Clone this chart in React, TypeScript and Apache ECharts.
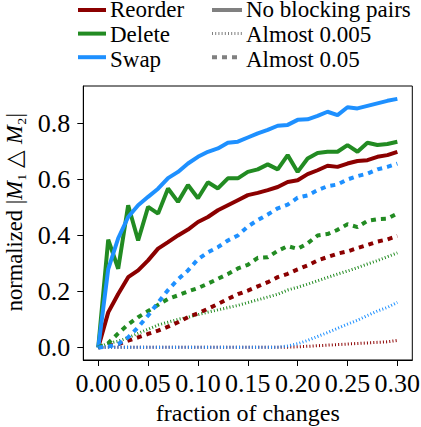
import React, { useEffect, useRef } from 'react';
import * as echarts from 'echarts';

// fraction of changes (x positions of the samples)
const fractions = [
  0.0, 0.01, 0.02, 0.03, 0.04, 0.05, 0.06, 0.07, 0.08, 0.09, 0.1,
  0.11, 0.12, 0.13, 0.14, 0.15, 0.16, 0.17, 0.18, 0.19, 0.2,
  0.21, 0.22, 0.23, 0.24, 0.25, 0.26, 0.27, 0.28, 0.29, 0.3,
];

const xTicks = [0, 0.05, 0.1, 0.15, 0.2, 0.25, 0.3];
const yTicks = [0, 0.2, 0.4, 0.6, 0.8];

const methodNames = ['Reorder', 'Delete', 'Swap'];
const styleNames = ['No blocking pairs', 'Almost 0.005', 'Almost 0.05'];

// No blocking pairs (solid)
const reorderSolid = [0, 0.125, 0.191, 0.251, 0.275, 0.311, 0.353, 0.376, 0.4, 0.421, 0.448, 0.466, 0.49, 0.508, 0.526, 0.544, 0.552, 0.562, 0.573, 0.591, 0.597, 0.619, 0.633, 0.649, 0.645, 0.657, 0.666, 0.669, 0.681, 0.687, 0.699];
const deleteSolid = [0, 0.385, 0.281, 0.508, 0.382, 0.502, 0.478, 0.568, 0.52, 0.58, 0.533, 0.59, 0.568, 0.604, 0.604, 0.627, 0.636, 0.654, 0.636, 0.687, 0.627, 0.675, 0.695, 0.699, 0.699, 0.723, 0.699, 0.731, 0.723, 0.727, 0.735];
const swapSolid = [0, 0.28, 0.39, 0.466, 0.508, 0.538, 0.567, 0.605, 0.627, 0.657, 0.681, 0.699, 0.711, 0.731, 0.735, 0.75, 0.765, 0.777, 0.792, 0.795, 0.813, 0.815, 0.827, 0.842, 0.83, 0.858, 0.854, 0.863, 0.872, 0.881, 0.888];

// Almost 0.005 (dotted)
const reorderDotted = [0, 0.001, 0.001, 0.001, 0.001, 0.001, 0.001, 0.001, 0.001, 0.001, 0.001, 0.001, 0.001, 0.001, 0.001, 0.001, 0.001, 0.001, 0.001, 0.001, 0.002, 0.004, 0.006, 0.008, 0.01, 0.012, 0.014, 0.016, 0.018, 0.02, 0.025];
const deleteDotted = [0, 0.015, 0.022, 0.035, 0.05, 0.065, 0.08, 0.09, 0.1, 0.108, 0.117, 0.126, 0.134, 0.142, 0.15, 0.16, 0.17, 0.18, 0.19, 0.205, 0.215, 0.226, 0.238, 0.25, 0.262, 0.273, 0.285, 0.298, 0.31, 0.324, 0.338];
const swapDotted = [0, 0.001, 0.001, 0.001, 0.001, 0.001, 0.001, 0.001, 0.001, 0.001, 0.001, 0.001, 0.001, 0.001, 0.001, 0.001, 0.001, 0.001, 0.001, 0.005, 0.013, 0.025, 0.039, 0.053, 0.068, 0.083, 0.097, 0.114, 0.13, 0.143, 0.161];

// Almost 0.05 (dashed)
const reorderDashed = [0, 0.006, 0.012, 0.024, 0.036, 0.048, 0.06, 0.074, 0.09, 0.108, 0.122, 0.138, 0.155, 0.173, 0.19, 0.203, 0.218, 0.233, 0.251, 0.263, 0.279, 0.293, 0.311, 0.323, 0.335, 0.343, 0.355, 0.366, 0.378, 0.386, 0.398];
const deleteDashed = [0, 0.015, 0.05, 0.082, 0.108, 0.13, 0.152, 0.173, 0.186, 0.2, 0.212, 0.228, 0.245, 0.262, 0.282, 0.295, 0.32, 0.322, 0.345, 0.362, 0.352, 0.372, 0.4, 0.405, 0.42, 0.44, 0.43, 0.452, 0.458, 0.46, 0.478];
const swapDashed = [0, 0.003, 0.012, 0.036, 0.072, 0.114, 0.16, 0.205, 0.243, 0.275, 0.315, 0.34, 0.358, 0.382, 0.4, 0.432, 0.455, 0.475, 0.497, 0.51, 0.535, 0.543, 0.562, 0.576, 0.582, 0.6, 0.612, 0.621, 0.636, 0.645, 0.657];

const RED = '#8b0000';
const GREEN = '#228b22';
const BLUE = '#1e90ff';
const GRAY = '#808080';
const FONT = 'Liberation Serif';

const DOTTED = [1, 2.2];
const DASHED = [5, 5];

const pairs = (ys: number[]) => fractions.map((x, i) => [x, ys[i]]);

const line = (name: string, color: string, ys: number[], width: number, type: any) => ({
  name,
  type: 'line',
  data: pairs(ys),
  symbol: 'none',
  color,
  lineStyle: { color, width, type, cap: 'butt' },
  z: 2,
});

// legend icons come from ECharts, legend labels are drawn as graphic text (serif)
const ROW_Y = [10, 35, 60];

const legendBox = (names: string[], left: number, itemWidth: number) => ({
  data: names,
  orient: 'vertical',
  left,
  top: ROW_Y[0] - 7,
  padding: 0,
  itemWidth,
  itemHeight: 14,
  itemGap: 11,
  formatter: () => '',
  itemStyle: { opacity: 0 },
  lineStyle: { width: 'inherit' },
});

const legendLabels = (names: string[], x: number) =>
  names.map((text, i) => ({
    type: 'text',
    x,
    y: ROW_Y[i] - 0.5,
    silent: true,
    style: {
      text,
      fill: '#000',
      fontFamily: FONT,
      fontSize: 23,
      verticalAlign: 'middle',
      align: 'left',
    },
  }));

const App: React.FC = () => {
  const chartRef = useRef<HTMLDivElement>(null);

  useEffect(() => {
    if (!chartRef.current) return;
    const chart = echarts.init(chartRef.current, null, { renderer: 'svg' });

    const option: any = {
      animation: false,
      backgroundColor: '#fff',
      textStyle: { fontFamily: FONT },
      legend: [
        legendBox(methodNames, 76, 28),
        legendBox(styleNames, 210, 30),
      ],
      graphic: [...legendLabels(methodNames, 110), ...legendLabels(styleNames, 246)],
      grid: {
        left: 83.3,
        right: 8.7,
        top: 86,
        bottom: 67,
        show: true,
        borderColor: '#000',
        borderWidth: 1,
        backgroundColor: 'transparent',
        containLabel: false,
        outerBoundsMode: 'none',
      },
      xAxis: {
        type: 'value',
        min: -0.015,
        max: 0.315,
        name: 'fraction of changes',
        nameLocation: 'middle',
        nameGap: 40,
        nameTextStyle: { fontFamily: FONT, fontSize: 24, color: '#000' },
        axisLine: { show: true, onZero: false, lineStyle: { color: '#000', width: 1 } },
        axisTick: { show: true, length: 6, lineStyle: { color: '#000' }, customValues: xTicks },
        axisLabel: {
          customValues: xTicks,
          formatter: (v: number) => v.toFixed(2),
          fontFamily: FONT,
          fontSize: 26,
          color: '#000',
          margin: 10,
        },
        splitLine: { show: false },
      },
      yAxis: {
        type: 'value',
        min: -0.045,
        max: 0.934,
        name: 'normalized |{i|M}₁ △ {i|M}₂|',
        nameLocation: 'middle',
        nameRotate: 90,
        nameGap: 57,
        nameTextStyle: {
          fontFamily: FONT,
          fontSize: 22.5,
          color: '#000',
          padding: [0, 0, 0, 22],
          rich: { i: { fontFamily: FONT, fontSize: 22.5, fontStyle: 'italic', color: '#000' } },
        },
        axisLine: { show: true, onZero: false, lineStyle: { color: '#000', width: 1 } },
        axisTick: { show: true, length: 6, lineStyle: { color: '#000' }, customValues: yTicks },
        axisLabel: {
          customValues: yTicks,
          formatter: (v: number) => v.toFixed(1),
          fontFamily: FONT,
          fontSize: 26,
          color: '#000',
          margin: 13,
        },
        splitLine: { show: false },
      },
      series: [
        line('Reorder', RED, reorderSolid, 4, 'solid'),
        line('Delete', GREEN, deleteSolid, 4, 'solid'),
        line('Swap', BLUE, swapSolid, 4, 'solid'),
        line('Reorder 0.005', RED, reorderDotted, 3, DOTTED),
        line('Delete 0.005', GREEN, deleteDotted, 3, DOTTED),
        line('Swap 0.005', BLUE, swapDotted, 3, DOTTED),
        line('Reorder 0.05', RED, reorderDashed, 4, DASHED),
        line('Delete 0.05', GREEN, deleteDashed, 4, DASHED),
        line('Swap 0.05', BLUE, swapDashed, 4, DASHED),
        line('No blocking pairs', GRAY, [], 4, 'solid'),
        line('Almost 0.005', GRAY, [], 3, DOTTED),
        line('Almost 0.05', GRAY, [], 4, DASHED),
      ],
    };

    chart.setOption(option);

    return () => {
      chart.dispose();
    };
  }, []);

  return (
    <div
      ref={chartRef}
      style={{ position: 'fixed', left: 0, top: 0, width: 421, height: 427, background: '#fff' }}
    />
  );
};

export default App;
